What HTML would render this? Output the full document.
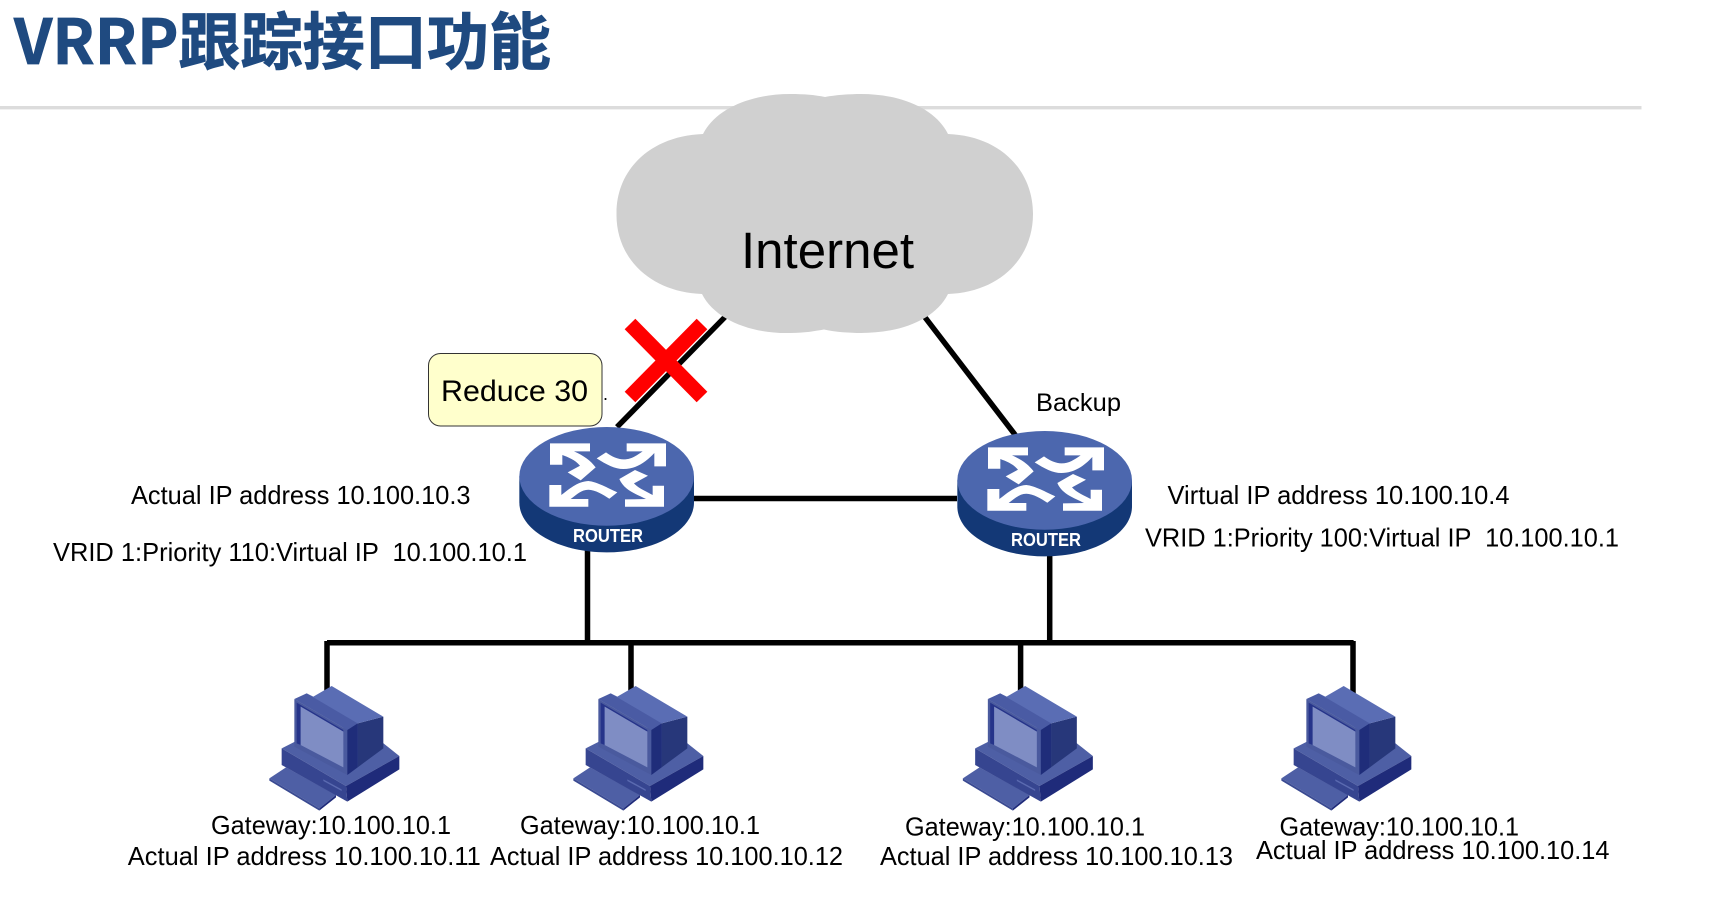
<!DOCTYPE html>
<html><head><meta charset="utf-8"><style>
html,body{margin:0;padding:0;background:#fff;width:1710px;height:902px;overflow:hidden}
svg{display:block}
text{font-family:"Liberation Sans","Noto Sans CJK SC",sans-serif;fill:#000}
.t{font-size:26px}
</style></head><body>
<svg width="1710" height="902" viewBox="0 0 1710 902" xmlns="http://www.w3.org/2000/svg">
<defs>
<g id="router">
<path d="M58 197V275C58 358 175 425 320 425S582 358 582 275V197Z" fill="#133876"/>
<ellipse cx="320" cy="197" rx="262" ry="148" fill="#4c67ae"/>
<g fill="#fff">
<path d="M150 98H270V122H222C252 135 272 150 287 170L242 209L203 185L240 165C225 147 205 140 187 133V162H150Z"/>
<path d="M380 98H498V167H463V127C440 152 410 175 370 175C345 175 320 162 290 143L318 125C335 138 355 146 370 146C395 146 408 135 428 122H380Z"/>
<path d="M148 223H184V253C205 238 230 213 265 211C290 213 325 233 352 245L328 264C310 252 285 237 265 237C245 237 232 250 212 265H265V288H148Z"/>
<path d="M492 288H375V266L438 265C410 250 373 240 358 205L405 178L444 195L402 218C415 233 440 243 458 253V225H492Z"/>
</g>
</g>
<g id="pc">
<path d="M28 295L78 262L228 345L178 385Z" fill="#4e5fa5"/>
<path d="M28 295L178 385V392L28 302Z" fill="#3a4a92"/>
<path d="M178 385L228 345V352L178 392Z" fill="#1f2b7a"/>
<path d="M65 205L105 185L295 130L418 228L258 318Z" fill="#4e5fa5"/>
<path d="M65 205L258 318L262 365L65 255Z" fill="#364590"/>
<path d="M258 318L418 228V268L262 365Z" fill="#1f2b7a"/>
<path d="M190 298L245 328V333L190 303Z" fill="#5a6ab0"/>
<path d="M293 130L370 110V205L293 262Z" fill="#27377a"/>
<path d="M105 58L140 40L160 50L215 18L370 110L293 130L262 150Z" fill="#5a6db4"/>
<path d="M103 57L140 40L293 130L262 150Z" fill="#4a5ba4"/>
<path d="M103 57L262 150V285L103 200Z" fill="#4a5a9e"/>
<path d="M110 68L250 150V155L122 80V195L110 190Z" fill="#26348a"/>
<path d="M122 80L250 155V262L122 195Z" fill="#7f8dc4"/>
<path d="M262 150L293 130V262L262 285Z" fill="#1f2d7a"/>
</g>
</defs>

<rect x="0" y="106" width="1641.5" height="3.4" fill="#dcdcdc"/>
<text x="14" y="64" font-size="62" font-weight="700" textLength="537" lengthAdjust="spacingAndGlyphs" style='font-family:"Noto Sans CJK SC",sans-serif;fill:#1f4a80;stroke:#1f4a80;stroke-width:.8'>VRRP跟踪接口功能</text>

<g stroke="#000" stroke-width="5.5" fill="none">
<line x1="725" y1="317" x2="617" y2="427"/>
<line x1="924" y1="316" x2="1016" y2="436"/>
<line x1="694" y1="498.5" x2="957" y2="498.5"/>
<line x1="587.5" y1="550" x2="587.5" y2="642"/>
<line x1="1049.7" y1="555" x2="1049.7" y2="642"/>
<line x1="327" y1="642.7" x2="1353.6" y2="642.7"/>
<line x1="327" y1="641" x2="327" y2="692"/>
<line x1="631" y1="642" x2="631" y2="692"/>
<line x1="1020.6" y1="642" x2="1020.6" y2="692"/>
<line x1="1353" y1="641" x2="1353" y2="694"/>
</g>

<path fill="#d0d0d0" d="M703 134C650 136 616 170 616.5 214C616 258 650 292 702 294C715 320 752 334 790 333C805 333 815 331 824 329.5C835 332 850 333 861 333C900 333 935 320 948 294C1000 292 1033 258 1033 214C1033 170 1000 136 948 134C935 108 900 94 861 94C850 94 835 95 825 97C815 95 805 94 790 94C752 94 716 108 703 134Z"/>
<text x="741" y="268" font-size="51" textLength="173" lengthAdjust="spacingAndGlyphs">Internet</text>

<g stroke="#f00" stroke-width="15" fill="none">
<line x1="630" y1="324" x2="702" y2="397"/>
<line x1="702" y1="324" x2="630" y2="397"/>
</g>

<rect x="428.5" y="353.5" width="173.5" height="72.5" rx="12" fill="#ffffcc" stroke="#333" stroke-width="1"/>
<text x="441" y="401" font-size="30" textLength="147" lengthAdjust="spacingAndGlyphs">Reduce 30</text>
<text x="603" y="400" font-size="18">.</text>
<text x="1036" y="411" font-size="25" textLength="85" lengthAdjust="spacingAndGlyphs">Backup</text>

<use href="#router" transform="translate(500,410.7) scale(.33333)"/>
<use href="#router" transform="translate(938,414.7) scale(.33333)"/>
<text x="573" y="542" font-size="18" font-weight="700" textLength="70" lengthAdjust="spacingAndGlyphs" style="fill:#fff">ROUTER</text>
<text x="1011" y="546" font-size="18" font-weight="700" textLength="70" lengthAdjust="spacingAndGlyphs" style="fill:#fff">ROUTER</text>

<use href="#pc" transform="translate(260,680) scale(.33333)"/>
<use href="#pc" transform="translate(564,680) scale(.33333)"/>
<use href="#pc" transform="translate(953.5,680) scale(.33333)"/>
<use href="#pc" transform="translate(1272,680) scale(.33333)"/>

<g class="t">
<text class="t" x="131" y="504" textLength="339.5" lengthAdjust="spacingAndGlyphs">Actual IP address 10.100.10.3</text>
<text class="t" x="53" y="561" textLength="474" lengthAdjust="spacingAndGlyphs" xml:space="preserve">VRID 1:Priority 110:Virtual IP  10.100.10.1</text>
<text class="t" x="1167.5" y="504" textLength="342" lengthAdjust="spacingAndGlyphs">Virtual IP address 10.100.10.4</text>
<text class="t" x="1145" y="546.7" textLength="474" lengthAdjust="spacingAndGlyphs" xml:space="preserve">VRID 1:Priority 100:Virtual IP  10.100.10.1</text>
<text class="t" x="211" y="834" textLength="240" lengthAdjust="spacingAndGlyphs">Gateway:10.100.10.1</text>
<text class="t" x="127.8" y="865" textLength="353" lengthAdjust="spacingAndGlyphs">Actual IP address 10.100.10.11</text>
<text class="t" x="520" y="834" textLength="240" lengthAdjust="spacingAndGlyphs">Gateway:10.100.10.1</text>
<text class="t" x="490" y="865" textLength="353" lengthAdjust="spacingAndGlyphs">Actual IP address 10.100.10.12</text>
<text class="t" x="905" y="835.7" textLength="240" lengthAdjust="spacingAndGlyphs">Gateway:10.100.10.1</text>
<text class="t" x="880" y="865" textLength="353" lengthAdjust="spacingAndGlyphs">Actual IP address 10.100.10.13</text>
<text class="t" x="1279.5" y="835.7" textLength="239.5" lengthAdjust="spacingAndGlyphs">Gateway:10.100.10.1</text>
<text class="t" x="1256" y="859" textLength="353.5" lengthAdjust="spacingAndGlyphs">Actual IP address 10.100.10.14</text>
</g>
</svg>
</body></html>
